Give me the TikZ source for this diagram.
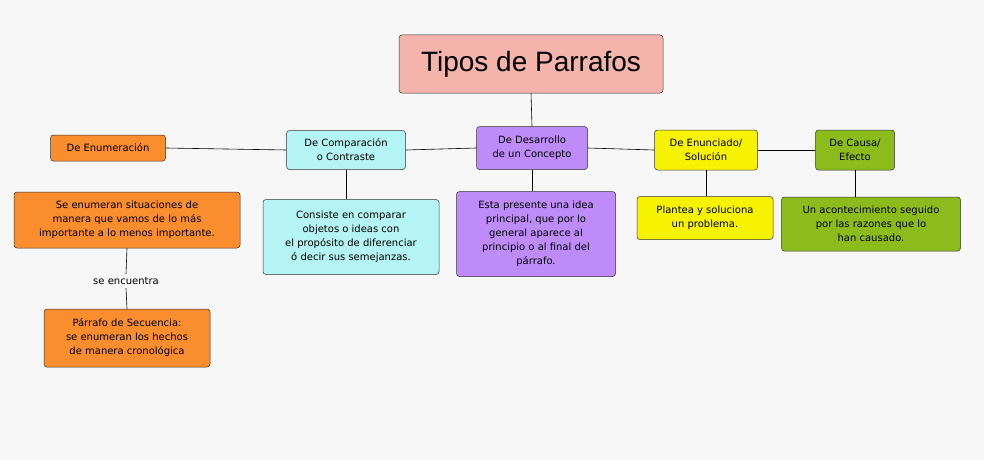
\documentclass[tikz,border=0pt]{standalone}
\usepackage{fontspec}
\setmainfont{DejaVu Sans}
\newfontfamily\titlefont{Liberation Sans}
\definecolor{bg}{HTML}{F8F7F7}
\definecolor{pinkc}{HTML}{F4B4AC}
\definecolor{orangec}{HTML}{FA8E2E}
\definecolor{cyanc}{HTML}{B4F4F4}
\definecolor{purplec}{HTML}{BE8CF8}
\definecolor{yellowc}{HTML}{F7F200}
\definecolor{greenc}{HTML}{8CBC1C}
\begin{document}
\begin{tikzpicture}[x=1pt,y=-1pt,
  bx/.style={draw=black!80,rounded corners=3pt,align=center,inner sep=0pt,
    font=\fontsize{10}{14}\selectfont,line width=0.5pt},
  ln/.style={draw=black,line width=0.6pt}]
\fill[bg] (0,0) rectangle (984,460);
\useasboundingbox (0,0) rectangle (984,460);
\node[bx,fill=pinkc,minimum width=264,minimum height=58,font=\titlefont\fontsize{28}{32}\selectfont] (t) at (531,64) {Tipos de Parrafos};
\node[bx,fill=orangec,minimum width=115,minimum height=26] (e) at (108,148) {De Enumeración};
\node[bx,fill=cyanc,minimum width=119,minimum height=39] (c) at (346,150) {De Comparación\\o Contraste};
\node[bx,fill=purplec,minimum width=111,minimum height=43] (d) at (532,148) {De Desarrollo\\de un Concepto};
\node[bx,fill=yellowc,minimum width=103,minimum height=40] (n) at (706,150) {De Enunciado/\\Solución};
\node[bx,fill=greenc,minimum width=79,minimum height=40] (k) at (855,150) {De Causa/\\Efecto};
\node[bx,fill=orangec,minimum width=226,minimum height=56] (e2) at (127,220) {Se enumeran situaciones de\\manera que vamos de lo más\\importante a lo menos importante.};
\node[font=\fontsize{10}{12}\selectfont] (se) at (126,281) {se encuentra};
\node[bx,fill=orangec,minimum width=166,minimum height=58] (e3) at (127,338) {Párrafo de Secuencia:\\se enumeran los hechos\\de manera cronológica};
\node[bx,fill=cyanc,minimum width=176,minimum height=75] (c2) at (351,237) {Consiste en comparar\\objetos o ideas con\\el propósito de diferenciar\\ó decir sus semejanzas.};
\node[bx,fill=purplec,minimum width=159,minimum height=85] (d2) at (536,234) {Esta presente una idea\\principal, que por lo\\general aparece al\\principio o al final del\\párrafo.};
\node[bx,fill=yellowc,minimum width=136,minimum height=43] (n2) at (705,218) {Plantea y soluciona\\un problema.};
\node[bx,fill=greenc,minimum width=179,minimum height=54] (k2) at (871,224) {Un acontecimiento seguido\\por las razones que lo\\han causado.};
\draw[ln] (t.south) -- (d.north);
\draw[ln] (e.east) -- (c.west);
\draw[ln] (c.east) -- (d.west);
\draw[ln] (d.east) -- (n.west);
\draw[ln] (n.east) -- (k.west);
\draw[ln] (e2.south) -- (se.north);
\draw[ln] (se.south) -- (e3.north);
\draw[ln] (c.south) -- (c.south |- c2.north);
\draw[ln] (d.south) -- (d.south |- d2.north);
\draw[ln] (n.south) -- (n.south |- n2.north);
\draw[ln] (k.south) -- (k.south |- k2.north);
\end{tikzpicture}
\end{document}
